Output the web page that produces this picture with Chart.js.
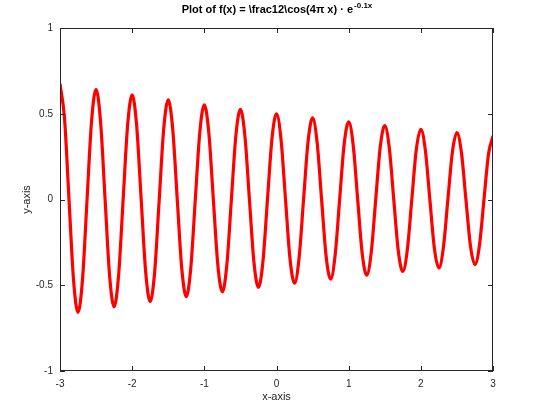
<!DOCTYPE html>
<html>
<head>
<meta charset="utf-8">
<script src="https://cdn.jsdelivr.net/npm/chart.js@4/dist/chart.umd.min.js"></script>
<style>
  html, body { margin: 0; padding: 0; background: #fff; }
  #wrap { width: 535px; height: 407px; }
</style>
</head>
<body>
<div id="wrap"><canvas id="c" width="535" height="407"></canvas></div>
<script>
// sample positions along x (step 1/16)
var xValues = [
  -3, -2.9375, -2.875, -2.8125, -2.75, -2.6875, -2.625, -2.5625,
  -2.5, -2.4375, -2.375, -2.3125, -2.25, -2.1875, -2.125, -2.0625,
  -2, -1.9375, -1.875, -1.8125, -1.75, -1.6875, -1.625, -1.5625,
  -1.5, -1.4375, -1.375, -1.3125, -1.25, -1.1875, -1.125, -1.0625,
  -1, -0.9375, -0.875, -0.8125, -0.75, -0.6875, -0.625, -0.5625,
  -0.5, -0.4375, -0.375, -0.3125, -0.25, -0.1875, -0.125, -0.0625,
  0, 0.0625, 0.125, 0.1875, 0.25, 0.3125, 0.375, 0.4375,
  0.5, 0.5625, 0.625, 0.6875, 0.75, 0.8125, 0.875, 0.9375,
  1, 1.0625, 1.125, 1.1875, 1.25, 1.3125, 1.375, 1.4375,
  1.5, 1.5625, 1.625, 1.6875, 1.75, 1.8125, 1.875, 1.9375,
  2, 2.0625, 2.125, 2.1875, 2.25, 2.3125, 2.375, 2.4375,
  2.5, 2.5625, 2.625, 2.6875, 2.75, 2.8125, 2.875, 2.9375,
  3
];

// curve values read at those positions
var yValues = [
  0.675, 0.4743, 0, -0.4684, -0.6583, -0.4626, 0, 0.4568,
  0.642, 0.4511, 0, -0.4455, -0.6262, -0.44, 0, 0.4345,
  0.6107, 0.4291, 0, -0.4238, -0.5956, -0.4185, 0, 0.4133,
  0.5809, 0.4082, 0, -0.4031, -0.5666, -0.3981, 0, 0.3932,
  0.5526, 0.3883, 0, -0.3835, -0.5389, -0.3787, 0, 0.374,
  0.5256, 0.3694, 0, -0.3648, -0.5127, -0.3602, 0, 0.3558,
  0.5, 0.3513, 0, -0.347, -0.4877, -0.3427, 0, 0.3384,
  0.4756, 0.3342, 0, -0.3301, -0.4639, -0.326, 0, 0.3219,
  0.4524, 0.3179, 0, -0.314, -0.4413, -0.3101, 0, 0.3062,
  0.4304, 0.3024, 0, -0.2987, -0.4197, -0.2949, 0, 0.2913,
  0.4094, 0.2877, 0, -0.2841, -0.3993, -0.2806, 0, 0.2771,
  0.3894, 0.2736, 0, -0.2702, -0.3798, -0.2669, 0, 0.2636,
  0.3704
];

var xTicks = [-3, -2, -1, 0, 1, 2, 3];
var yTicks = [-1, -0.5, 0, 0.5, 1];

var points = xValues.map(function (x, i) {
  return { x: x, y: yValues[i] };
});

var FONT = "'Liberation Sans', Arial, Helvetica, sans-serif";

// frame, inward ticks, title and axis names
var decor = {
  id: "decor",
  afterDraw: function (chart) {
    var ctx = chart.ctx;
    var a = chart.chartArea;
    var xs = chart.scales.x;
    var ys = chart.scales.y;
    ctx.save();
    ctx.strokeStyle = "#262626";
    ctx.lineWidth = 1;
    ctx.strokeRect(a.left + 0.5, a.top + 0.5, a.right - a.left - 1, a.bottom - a.top - 1);

    ctx.beginPath();
    xTicks.forEach(function (v) {
      var px = Math.round(xs.getPixelForValue(v)) + 0.5;
      ctx.moveTo(px, a.bottom);
      ctx.lineTo(px, a.bottom - 5);
      ctx.moveTo(px, a.top);
      ctx.lineTo(px, a.top + 5);
    });
    yTicks.forEach(function (v) {
      var py = Math.round(ys.getPixelForValue(v)) + 0.5;
      ctx.moveTo(a.left, py);
      ctx.lineTo(a.left + 5, py);
      ctx.moveTo(a.right, py);
      ctx.lineTo(a.right - 5, py);
    });
    ctx.stroke();

    // title with superscript
    ctx.fillStyle = "#000";
    ctx.textBaseline = "alphabetic";
    var main = "Plot of f(x) = \\frac12\\cos(4\u03c0 x) \u00b7 e";
    var sup = "-0.1x";
    ctx.font = "bold 11px " + FONT;
    var w1 = ctx.measureText(main).width;
    ctx.font = "bold 8px " + FONT;
    var w2 = ctx.measureText(sup).width;
    var cx = (a.left + a.right) / 2;
    var sx = cx - (w1 + w2) / 2;
    ctx.font = "bold 11px " + FONT;
    ctx.textAlign = "left";
    ctx.fillText(main, sx, 13);
    ctx.font = "bold 8px " + FONT;
    ctx.fillText(sup, sx + w1 + 1, 8);

    // axis names
    ctx.font = "11px " + FONT;
    ctx.fillStyle = "#262626";
    ctx.textAlign = "center";
    ctx.fillText("x-axis", cx, 400);
    ctx.translate(30, (a.top + a.bottom) / 2);
    ctx.rotate(-Math.PI / 2);
    ctx.fillText("y-axis", 0, 0);
    ctx.restore();
  }
};

new Chart(document.getElementById("c"), {
  type: "line",
  data: {
    datasets: [{
      data: points,
      borderColor: "#ff0000",
      borderWidth: 3.2,
      pointRadius: 0,
      cubicInterpolationMode: "monotone",
      fill: false
    }]
  },
  options: {
    responsive: false,
    animation: false,
    layout: { padding: { top: 28, right: 42, left: 0, bottom: 0 } },
    plugins: {
      legend: { display: false },
      tooltip: { enabled: false }
    },
    scales: {
      x: {
        type: "linear",
        min: -3,
        max: 3,
        afterFit: function (s) { s.height = 36; },
        afterBuildTicks: function (s) {
          s.ticks = xTicks.map(function (v) { return { value: v }; });
        },
        grid: { display: false, drawTicks: false },
        border: { display: false },
        ticks: {
          padding: 7,
          color: "#262626",
          font: { family: FONT, size: 10 },
          maxRotation: 0,
          callback: function (v) { return String(v); }
        }
      },
      y: {
        type: "linear",
        min: -1,
        max: 1,
        afterFit: function (s) { s.width = 60; },
        afterBuildTicks: function (s) {
          s.ticks = yTicks.map(function (v) { return { value: v }; });
        },
        grid: { display: false, drawTicks: false },
        border: { display: false },
        ticks: {
          padding: 7,
          color: "#262626",
          font: { family: FONT, size: 10 },
          callback: function (v) { return String(v); }
        }
      }
    }
  },
  plugins: [decor]
});
</script>
</body>
</html>
